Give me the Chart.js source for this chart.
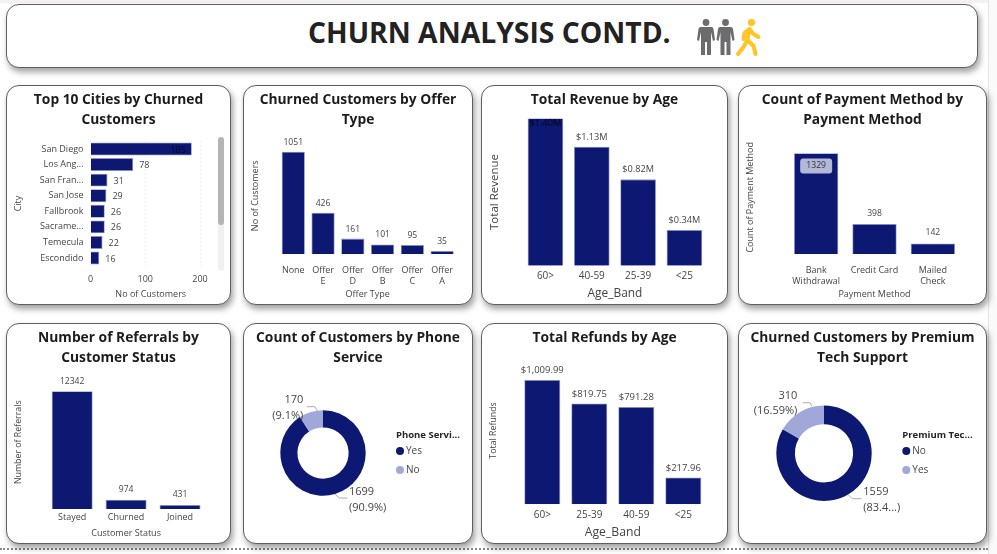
<!DOCTYPE html>
<html>
<head>
<meta charset="utf-8">
<title>Churn Analysis Contd.</title>
<script src="https://cdn.jsdelivr.net/npm/chart.js@4"></script>
<style>
  html, body { margin: 0; padding: 0; background: #fff; width: 997px; height: 554px; overflow: hidden; }
  body { position: relative; font-family: "Open Sans", sans-serif; }
  .ribbon { position: absolute; left: 0; top: 0; width: 997px; height: 3px; background: #f3f2f1; }
  .rightEdge { position: absolute; left: 988px; top: 0; width: 9px; height: 554px; background: #fafafa; border-left: 1px solid #e4e4e4; box-sizing: border-box; }
  .dots { position: absolute; left: 0; top: 548px; width: 988px; border-top: 2px dotted #8a8a8a; }
  .card { position: absolute; box-sizing: border-box; background: #fff; border: 1px solid #5f5f5f; border-radius: 13px; box-shadow: 2px 4px 6px rgba(0,0,0,.38); }
  .card canvas { position: absolute; left: 0; top: 0; }
  .cardTitle { position: absolute; left: 0; right: 0; top: 3px; text-align: center; font-weight: 700; font-size: 13.8px; line-height: 19.7px; color: #1c1c1c; z-index: 2; }
  .banner { left: 6px; top: 4px; width: 972px; height: 64px; }
  .banner h1 { position: absolute; left: 301px; top: 7px; margin: 0; font-size: 28.3px; line-height: 40px; font-weight: 700; color: #222; white-space: nowrap; }
  .banner svg { position: absolute; left: 690px; top: 13px; }
  .track { position: absolute; left: 218px; top: 137px; width: 6px; height: 134px; background: #f0f0f0; border-radius: 3px; z-index: 3; }
  .thumb { position: absolute; left: 218px; top: 137px; width: 6px; height: 88px; background: #b4b4b4; border-radius: 3px; z-index: 4; }
</style>
</head>
<body>
<div class="ribbon"></div>
<div class="rightEdge"></div>
<div class="dots"></div>
<div class="card banner">
  <h1>CHURN ANALYSIS CONTD.</h1>
  <svg width="70" height="40" viewBox="0 0 70 40">
    <g fill="#6b6b70">
      <circle cx="9" cy="4.5" r="3.4"/>
      <path d="M3.5 9H14.5Q16 9 16.5 11L18 22L16 23L14 14V37H10V24H8V37H4V14L2 23L0 22L1.5 11Q2 9 3.5 9Z"/>
      <g transform="translate(19.5 0)">
        <circle cx="9" cy="4.5" r="3.4"/>
        <path d="M3.5 9H14.5Q16 9 16.5 11L18 22L16 23L14 14V37H10V24H8V37H4V14L2 23L0 22L1.5 11Q2 9 3.5 9Z"/>
      </g>
    </g>
    <g transform="translate(39.5 0)">
      <circle cx="15" cy="4.5" r="3.6" fill="#ffc425"/>
      <path fill="none" stroke="#ffc425" stroke-width="4" stroke-linecap="round" stroke-linejoin="round"
        d="M13 11L11 22L7 29L1.5 36M11 22L17 28L19 36M13 11L17 16L22 19M13 11L8 15L7 21"/>
    </g>
  </svg>
</div>
<div class="card" id="c1"><div class="cardTitle">Top 10 Cities by Churned<br>Customers</div><canvas id="cityChart"></canvas></div>
<div class="track"></div><div class="thumb"></div>
<div class="card" id="c2"><div class="cardTitle">Churned Customers by Offer<br>Type</div><canvas id="offerChart"></canvas></div>
<div class="card" id="c3"><div class="cardTitle">Total Revenue by Age</div><canvas id="revenueChart"></canvas></div>
<div class="card" id="c4"><div class="cardTitle">Count of Payment Method by<br>Payment Method</div><canvas id="paymentChart"></canvas></div>
<div class="card" id="c5"><div class="cardTitle">Number of Referrals by<br>Customer Status</div><canvas id="referralChart"></canvas></div>
<div class="card" id="c6"><div class="cardTitle">Count of Customers by Phone<br>Service</div><canvas id="phoneChart"></canvas></div>
<div class="card" id="c7"><div class="cardTitle">Total Refunds by Age</div><canvas id="refundChart"></canvas></div>
<div class="card" id="c8"><div class="cardTitle">Churned Customers by Premium<br>Tech Support</div><canvas id="techChart"></canvas></div>

<script>
const cityNames = ["San Diego", "Los Ang...", "San Fran...", "San Jose", "Fallbrook", "Sacrame...", "Temecula", "Escondido"];
const cityChurned = [185, 78, 31, 29, 26, 26, 22, 16];
const cityTicks = [0, 100, 200];

const offerTypes = [["None"], ["Offer", "E"], ["Offer", "D"], ["Offer", "B"], ["Offer", "C"], ["Offer", "A"]];
const offerChurned = [1051, 426, 161, 101, 95, 35];

const revenueBands = ["60>", "40-59", "25-39", "<25"];
const revenueMillions = [1.40, 1.13, 0.82, 0.34];

const paymentMethods = [["Bank", "Withdrawal"], ["Credit Card"], ["Mailed", "Check"]];
const paymentCounts = [1329, 398, 142];

const statusNames = ["Stayed", "Churned", "Joined"];
const statusReferrals = [12342, 974, 431];

const phoneLabels = ["Yes", "No"];
const phoneCounts = [1699, 170];
const phoneShares = ["(90.9%)", "(9.1%)"];

const refundBands = ["60>", "25-39", "40-59", "<25"];
const refundTotals = [1009.99, 819.75, 791.28, 217.96];

const techLabels = ["No", "Yes"];
const techCounts = [1559, 310];
const techShares = ["(83.4...)", "(16.59%)"];

const NAVY = "#0c1872";
const NAVY_EDGE = "#8f95cc";
const LILAC = "#a1a7d9";
const TEXT = "#454545";
const FONT = "'Open Sans', sans-serif";

const CARDS = {
  c1: { l: 6, t: 85, r: 231, b: 305 },
  c2: { l: 243, t: 85, r: 473, b: 305 },
  c3: { l: 481, t: 85, r: 728, b: 305 },
  c4: { l: 738, t: 85, r: 987, b: 305 },
  c5: { l: 6, t: 323, r: 231, b: 544 },
  c6: { l: 243, t: 323, r: 473, b: 544 },
  c7: { l: 481, t: 323, r: 728, b: 544 },
  c8: { l: 738, t: 323, r: 987, b: 544 },
};

Object.entries(CARDS).forEach(([id, box]) => {
  const el = document.getElementById(id);
  el.style.left = box.l + "px";
  el.style.top = box.t + "px";
  el.style.width = box.r - box.l + "px";
  el.style.height = box.b - box.t + "px";
  const canvas = el.querySelector("canvas");
  canvas.width = box.r - box.l - 2;
  canvas.height = box.b - box.t - 2;
});

// value labels over the bars, one bar can sit inside with a dark text or a chip
const barLabelPlugin = {
  id: "barLabels",
  afterDatasetsDraw(chart, _args, opts) {
    if (!opts.format) return;
    const { ctx } = chart;
    const meta = chart.getDatasetMeta(0);
    const values = chart.data.datasets[0].data;
    ctx.save();
    ctx.textBaseline = "middle";
    meta.data.forEach((bar, i) => {
      const text = opts.format(values[i]);
      const inside = opts.insideIndex === i;
      ctx.font = `${opts.size || 9}px ${FONT}`;
      ctx.fillStyle = TEXT;
      if (chart.options.indexAxis === "y") {
        ctx.textAlign = inside ? "right" : "left";
        if (inside) ctx.fillStyle = "#050824";
        ctx.fillText(text, bar.x + (inside ? -opts.insideGap : opts.gap), bar.y + 1);
        return;
      }
      ctx.textAlign = "center";
      if (inside) {
        const y = bar.y + opts.insideGap;
        if (opts.chip) {
          ctx.fillStyle = "#b3b7d8";
          ctx.beginPath();
          ctx.roundRect(bar.x - 16, y - 7.5, 32, 15, 3);
          ctx.fill();
          ctx.fillStyle = "#333";
        } else {
          ctx.fillStyle = "#03051c";
        }
        ctx.fillText(text, bar.x, y);
      } else {
        ctx.fillText(text, bar.x, bar.y - opts.gap);
      }
    });
    ctx.restore();
  },
};

// donut callouts and the small legend on the right
const donutNotesPlugin = {
  id: "donutNotes",
  afterDatasetsDraw(chart, _args, opts) {
    if (!opts.notes) return;
    const { ctx } = chart;
    const arc = chart.getDatasetMeta(0).data[0];
    const cx = arc.x;
    const cy = arc.y;
    const values = chart.data.datasets[0].data;
    const colors = chart.data.datasets[0].backgroundColor;
    ctx.save();
    ctx.textBaseline = "middle";
    opts.notes.forEach((note, i) => {
      ctx.strokeStyle = "#ababab";
      ctx.lineWidth = 1;
      ctx.beginPath();
      note.leader.forEach(([dx, dy], k) => {
        if (k === 0) ctx.moveTo(cx + dx, cy + dy);
        else ctx.lineTo(cx + dx, cy + dy);
      });
      ctx.stroke();
      ctx.font = `11px ${FONT}`;
      ctx.fillStyle = TEXT;
      ctx.textAlign = note.align;
      ctx.fillText(String(values[i]), cx + note.dx, cy + note.dy);
      ctx.fillText(opts.shares[i], cx + note.dx, cy + note.dy + 15.5);
    });
    const lg = opts.legend;
    ctx.textAlign = "left";
    ctx.font = `700 9.5px ${FONT}`;
    ctx.fillStyle = "#252525";
    ctx.fillText(lg.title, lg.x, lg.y);
    chart.data.labels.forEach((label, i) => {
      const y = lg.y + 16 + i * 19;
      ctx.fillStyle = colors[i];
      ctx.beginPath();
      ctx.arc(lg.x + 4, y, 4, 0, Math.PI * 2);
      ctx.fill();
      ctx.font = `10px ${FONT}`;
      ctx.fillStyle = TEXT;
      ctx.fillText(label, lg.x + 10, y);
    });
    ctx.restore();
  },
};

Chart.register(barLabelPlugin, donutNotesPlugin);

// plot is the wanted plot rectangle on the page, the axes are forced to fit around it
const axisTitle = (text, size) => ({
  display: true,
  text,
  color: TEXT,
  font: { family: FONT, size },
});

const buildBar = (canvasId, cardId, cfg) => {
  const card = CARDS[cardId];
  const { plot } = cfg;
  const horizontal = cfg.horizontal === true;
  const leftSize = plot.l - card.l - 1;
  const bottomSize = card.b - 1 - plot.b;
  const tickFont = { family: FONT, size: cfg.tickSize || 9, lineHeight: 1.3 };

  const yTitle = { ...axisTitle(cfg.yTitle, cfg.yTitleSize || 9), padding: { top: cfg.yTitlePad, bottom: 0 } };
  const xTitle = { ...axisTitle(cfg.xTitle, cfg.xTitleSize || 9), padding: { top: 0, bottom: cfg.xTitlePad } };

  const categoryTicks = { color: TEXT, font: tickFont, autoSkip: false, maxRotation: 0, minRotation: 0, padding: cfg.tickPad };
  const x = horizontal
    ? {
        min: 0,
        max: cfg.max,
        afterBuildTicks: (s) => { s.ticks = cityTicks.map((value) => ({ value })); },
        ticks: { color: TEXT, font: tickFont, maxRotation: 0, padding: cfg.tickPad },
        grid: { color: "#e4e4e4", drawTicks: false },
        border: { display: false, dash: [1, 3] },
      }
    : { ticks: categoryTicks, grid: { display: false, drawTicks: false }, border: { display: false } };
  const y = horizontal
    ? { ticks: { ...categoryTicks, padding: 7 }, grid: { display: false, drawTicks: false }, border: { display: false } }
    : { min: 0, max: cfg.max, ticks: { display: false }, grid: { display: false, drawTicks: false }, border: { display: false } };

  x.title = xTitle;
  y.title = yTitle;
  x.afterFit = (s) => { s.height = bottomSize; };
  y.afterFit = (s) => { s.width = leftSize; };

  return new Chart(document.getElementById(canvasId), {
    type: "bar",
    data: {
      labels: cfg.labels,
      datasets: [{
        data: cfg.values,
        backgroundColor: NAVY,
        borderColor: NAVY_EDGE,
        borderWidth: 0.8,
        barPercentage: cfg.barShare,
        categoryPercentage: 1,
      }],
    },
    options: {
      indexAxis: horizontal ? "y" : "x",
      responsive: false,
      animation: false,
      layout: { padding: { left: 0, bottom: 0, top: plot.t - card.t - 1, right: card.r - 1 - plot.r } },
      plugins: { legend: { display: false }, tooltip: { enabled: false }, barLabels: cfg.labelOpts },
      scales: { x, y },
    },
  });
};

const buildDonut = (canvasId, cardId, cfg) => {
  const card = CARDS[cardId];
  const w = card.r - card.l - 2;
  const h = card.b - card.t - 2;
  const left = cfg.cx - cfg.radius - card.l - 1;
  const top = cfg.cy - cfg.radius - card.t - 1;
  return new Chart(document.getElementById(canvasId), {
    type: "doughnut",
    data: {
      labels: cfg.labels,
      datasets: [{ data: cfg.values, backgroundColor: [NAVY, LILAC], borderWidth: 0 }],
    },
    options: {
      responsive: false,
      animation: false,
      cutout: cfg.cutout,
      layout: { padding: { left, top, right: w - left - cfg.radius * 2, bottom: h - top - cfg.radius * 2 } },
      plugins: {
        legend: { display: false },
        tooltip: { enabled: false },
        donutNotes: {
          notes: cfg.notes,
          shares: cfg.shares,
          legend: { ...cfg.legend, x: cfg.legend.x - card.l - 1, y: cfg.legend.y - card.t - 1 },
        },
      },
    },
  });
};

const plain = (v) => String(v);

buildBar("cityChart", "c1", {
  horizontal: true,
  plot: { l: 90.5, t: 141.2, r: 211, b: 265.8 },
  labels: cityNames, values: cityChurned, max: 220, barShare: 0.83,
  xTitle: "No of Customers", yTitle: "City", tickPad: 8, yTitlePad: 6, xTitlePad: 4,
  labelOpts: { format: plain, gap: 6, insideIndex: 0, insideGap: 6 },
});

buildBar("offerChart", "c2", {
  plot: { l: 278.4, t: 137.2, r: 457, b: 254.3 },
  labels: offerTypes, values: offerChurned, max: 1200, barShare: 0.78,
  xTitle: "Offer Type", yTitle: "No of Customers", tickPad: 10, yTitlePad: 6, xTitlePad: 4,
  labelOpts: { format: plain, size: 8.6, gap: 9.5 },
});

buildBar("revenueChart", "c3", {
  plot: { l: 522.3, t: 118.3, r: 707.6, b: 265.7 },
  labels: revenueBands, values: revenueMillions, max: 1.4, barShare: 0.77, tickSize: 10,
  xTitle: "Age_Band", xTitleSize: 11.9, yTitle: "Total Revenue", yTitleSize: 11.5, tickPad: 4, yTitlePad: 6, xTitlePad: 3,
  labelOpts: { format: (v) => `$${v.toFixed(2)}M`, size: 9.2, gap: 9.5, insideIndex: 0, insideGap: 5 },
});

buildBar("paymentChart", "c4", {
  plot: { l: 787, t: 140.3, r: 962, b: 254.3 },
  labels: paymentMethods, values: paymentCounts, max: 1500, barShare: 0.76,
  xTitle: "Payment Method", yTitle: "Count of Payment Method", tickPad: 10, yTitlePad: 6, xTitlePad: 4,
  labelOpts: { format: plain, size: 8.6, gap: 11, insideIndex: 0, insideGap: 12.7, chip: true },
});

buildBar("referralChart", "c5", {
  plot: { l: 45.2, t: 375.5, r: 207, b: 509 },
  labels: statusNames, values: statusReferrals, max: 14000, barShare: 0.76,
  xTitle: "Customer Status", yTitle: "Number of Referrals", yTitleSize: 8.8, tickPad: 3, yTitlePad: 6, xTitlePad: 4,
  labelOpts: { format: plain, size: 8.6, gap: 10 },
});

buildBar("refundChart", "c7", {
  plot: { l: 518.8, t: 356.6, r: 706.8, b: 504.3 },
  labels: refundBands, values: refundTotals, max: 1200, barShare: 0.766, tickSize: 10,
  xTitle: "Age_Band", xTitleSize: 12.2, yTitle: "Total Refunds", yTitleSize: 8.8, tickPad: 4, yTitlePad: 6, xTitlePad: 3,
  labelOpts: { format: (v) => `$${v.toLocaleString("en-US", { minimumFractionDigits: 2 })}`, size: 9.5, gap: 9.5 },
});

buildDonut("phoneChart", "c6", {
  cx: 323, cy: 453, radius: 42.7, cutout: "60%",
  labels: phoneLabels, values: phoneCounts, shares: phoneShares,
  notes: [
    { align: "left", dx: 26, dy: 39, leader: [[12, 41], [16.3, 45], [24.3, 45]] },
    { align: "right", dx: -19.7, dy: -53, leader: [[-16.3, -46.3], [-8, -46.3], [-5.7, -42.3]] },
  ],
  legend: { title: "Phone Servi...", x: 396, y: 435 },
});

buildDonut("techChart", "c8", {
  cx: 824, cy: 453.3, radius: 47.7, cutout: "61%",
  labels: techLabels, values: techCounts, shares: techShares,
  notes: [
    { align: "left", dx: 39.3, dy: 39, leader: [[24.3, 41.4], [28.3, 45.4], [37.7, 45.4]] },
    { align: "right", dx: -26.7, dy: -57.6, leader: [[-21, -50.6], [-14, -50.6], [-12, -47.3]] },
  ],
  legend: { title: "Premium Tec...", x: 902.3, y: 435 },
});
</script>
</body>
</html>
